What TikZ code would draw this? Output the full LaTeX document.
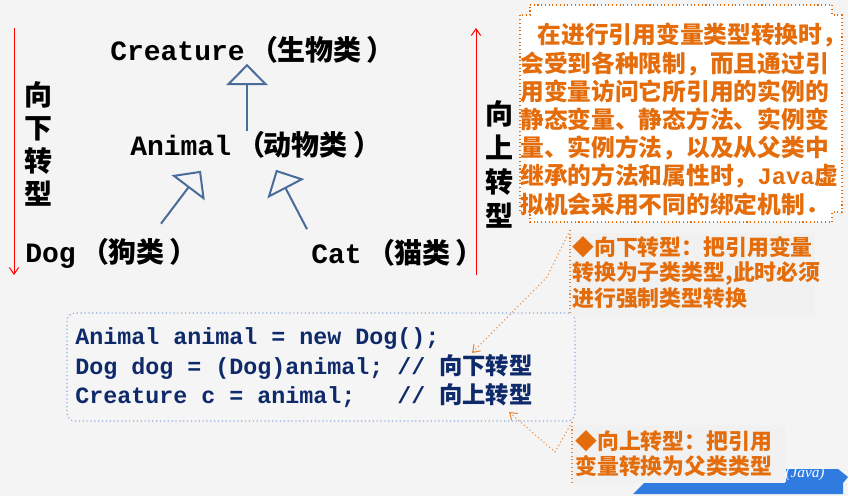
\documentclass[tikz,border=0pt]{standalone}
\usepackage{fontspec}
\setmonofont{Liberation Mono}
\newfontfamily\cjk{Noto Sans CJK SC}
\newfontfamily\serifit{Liberation Serif}
\usetikzlibrary{arrows.meta,calc}
\definecolor{bg}{HTML}{F4F4F4}
\definecolor{orng}{HTML}{E46C0A}
\definecolor{navy}{HTML}{0F2A6B}
\definecolor{inhblue}{HTML}{4A6C9B}
\definecolor{boxblue}{HTML}{8EAADB}
\definecolor{bannerblue}{HTML}{2F7BE0}
\definecolor{calloutbg}{HTML}{F1F1F1}
\newcommand\zh[1]{{\cjk\bfseries #1}}
\newcommand\cd[1]{{\ttfamily\bfseries #1}}
\newcommand\lpar{\hspace{4.5pt}（\hspace{-1pt}}
\newcommand\rpar{\hspace{4pt}）}
\begin{document}
\begin{tikzpicture}[x=0.75pt,y=-0.75pt,
  lbl/.style={inner sep=0pt, anchor=west, font=\fontsize{21}{25}\selectfont},
  vlbl/.style={inner sep=0pt, align=center, font=\fontsize{21}{#1}\selectfont\cjk\bfseries},
  inh/.style={draw=inhblue, line width=1.5pt, -{Triangle[open,length=16pt,width=31pt]}},
  redarrow/.style={draw=red, line width=0.75pt, -{Straight Barb[length=5pt,width=7pt]}},
  leader/.style={draw=orng!80, line width=0.8pt, dotted, -{Straight Barb[length=5pt,width=7pt]}},
  leaderedge/.style={draw=orng!80, line width=0.8pt, dotted},
  orangetext/.style={inner sep=0pt, anchor=north west, align=left, text=orng},
]
% background
\fill[bg] (0,0) rectangle (848,496);
\useasboundingbox (0,0) rectangle (848,496);

% class labels
\node[lbl] (creature) at (110,50) {\cd{Creature}\zh{\lpar 生物类\rpar}};
\node[lbl] (animal) at (130,145) {\cd{Animal}\zh{\lpar 动物类\rpar}};
\node[lbl] (dog) at (25,253) {\cd{Dog}\zh{\lpar 狗类\rpar}};
\node[lbl] (cat) at (311,253) {\cd{Cat}\zh{\lpar 猫类\rpar}};

% inheritance arrows
\coordinate (upline) at (247,0);
\draw[inh] (animal.north -| upline) -- (creature.south -| upline);
\draw[inh] ($(dog.north west)+(136,-14)$) -- ($(animal.south west)+(71,12)$);
\draw[inh] ($(cat.north west)+(-4,-10)$) -- ($(animal.south west)+(146,11)$);

% red direction arrows
\coordinate (downtop) at (14,28);
\coordinate (downbot) at (14,275);
\coordinate (uptop) at (476,28);
\coordinate (upbot) at (476,275);
\draw[redarrow] (downtop) -- (downbot);
\draw[redarrow] (upbot) -- (uptop);
\node[vlbl=24.75] (downlbl) at (38,144) {向\\下\\转\\型};
\node[vlbl=25.5] (uplbl) at (499,164) {向\\上\\转\\型};

% orange note box
\draw[orng, dotted, line width=0.8pt, fill=white]
  (530,5) -- (832,5) -- (832,15) -- (842,15) -- (842,212) -- (832,212) -- (832,222)
  -- (530,222) -- (530,212) -- (520,212) -- (520,15) -- (530,15) -- cycle;
\node[orangetext, font=\fontsize{17.8}{21.15}\selectfont\cjk\bfseries] (note) at (520,23)
  {\hspace*{13pt}在进行引用变量类型转换时，\\
   会受到各种限制，而且通过引\\
   用变量访问它所引用的实例的\\
   静态变量、静态方法、实例变\\
   量、实例方法，以及从父类中\\
   继承的方法和属性时，\cd{Java}虚\\
   拟机会采用不同的绑定机制．};

% code box
\draw[boxblue, dotted, line width=0.9pt, fill=bg!95!white, rounded corners=6pt]
  (67,313) rectangle (575,421);
\node[inner sep=0pt, anchor=west, align=left, text=navy,
      font=\fontsize{17.5}{22.1}\selectfont] (code) at (75,368)
  {\cd{Animal animal = new Dog();}\\
   \cd{Dog dog = (Dog)animal; //\ }\zh{向下转型}\\
   \cd{Creature c = animal;\ \ \ //\ }\zh{向上转型}};

% bottom-right banner
\fill[bannerblue] (633,494) -- (645,482) -- (786,482) -- (786,469) -- (838,469)
  -- (848,477) -- (843,483) -- (843,494) -- cycle;
\node[inner sep=0pt, text=white, font=\fontsize{11.5}{13}\selectfont\serifit\itshape]
  (javatag) at (805,474) {(Java)};

% callout 1
\fill[calloutbg] (570,233) rectangle (815,316);
\coordinate (c1top) at (570,230);
\coordinate (c1bot) at (570,315);
\coordinate (c1bend) at (547,277);
\coordinate (c1end) at (472,353);
\draw[leaderedge] (c1top) -- (c1bot);
\draw[leader] (c1top) -- (c1bend) -- (c1end);
\node[orangetext, font=\fontsize{16.4}{19.1}\selectfont\cjk\bfseries] (call1) at (572,236)
  {◆向下转型：把引用变量\\
   转换为子类类型,此时必须\\
   进行强制类型转换};

% callout 2
\fill[calloutbg] (572,425) rectangle (785,483);
\coordinate (c2top) at (572,422);
\coordinate (c2bot) at (572,482);
\coordinate (c2bend) at (555,452);
\coordinate (c2end) at (509,412);
\draw[leaderedge] (c2top) -- (c2bot);
\draw[leader] (c2top) -- (c2bend) -- (c2end);
\node[orangetext, font=\fontsize{16.4}{19.1}\selectfont\cjk\bfseries] (call2) at (575,430)
  {◆向上转型：把引用\\
   变量转换为父类类型};
\end{tikzpicture}
\end{document}
